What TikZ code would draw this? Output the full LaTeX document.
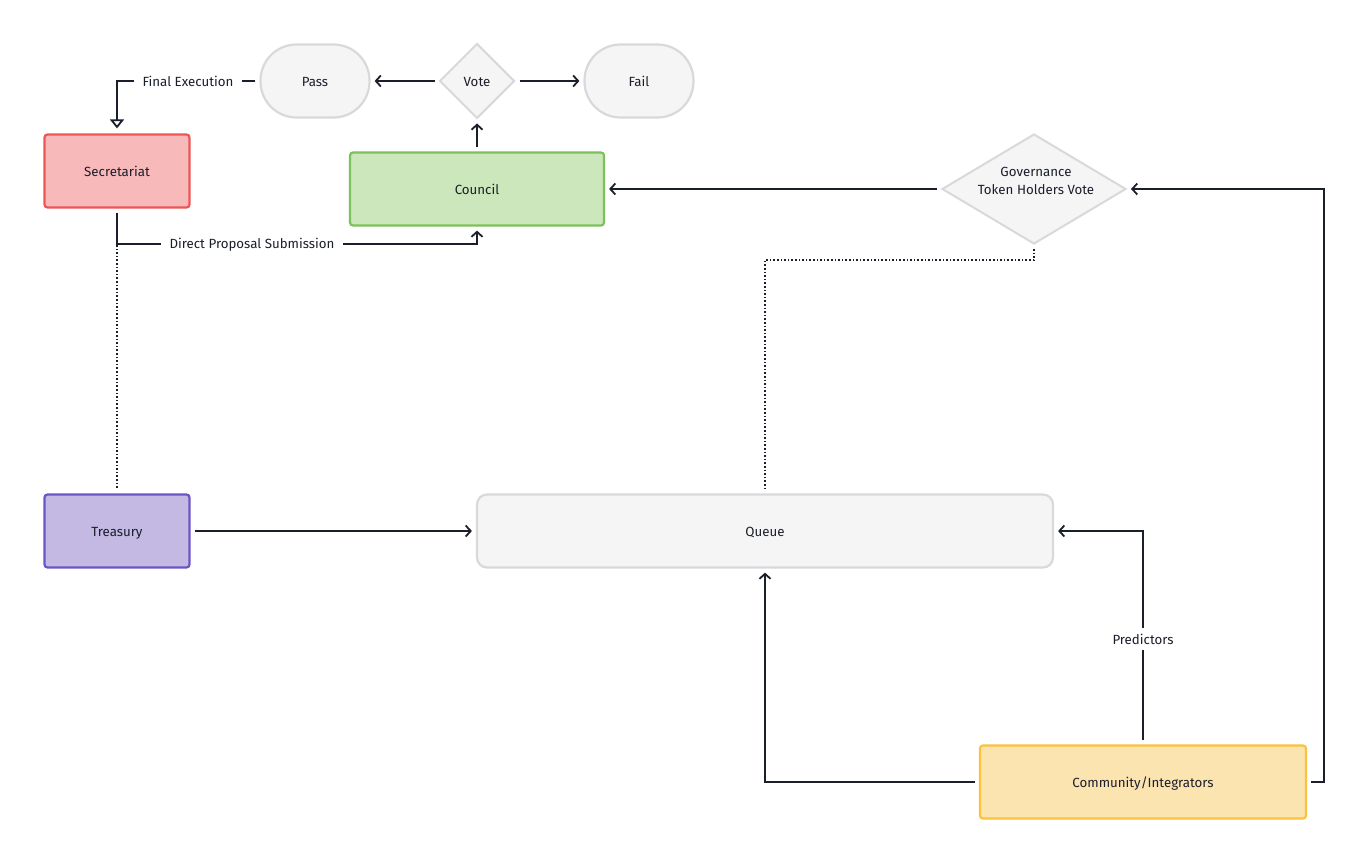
\documentclass[tikz,border=0pt]{standalone}
\usepackage{fontspec}
\setmainfont{Fira Sans}
\usetikzlibrary{arrows.meta,shapes.geometric}
\definecolor{ink}{HTML}{1B1E2B}
\definecolor{greyf}{HTML}{F5F5F5}
\definecolor{greyb}{HTML}{D9D9DC}
\definecolor{secf}{HTML}{F8B9BA}
\definecolor{secb}{HTML}{EE5656}
\definecolor{couf}{HTML}{CDE7BD}
\definecolor{coub}{HTML}{7CC25A}
\definecolor{trsf}{HTML}{C3B9E3}
\definecolor{trsb}{HTML}{6A55C6}
\definecolor{comf}{HTML}{FCE4B1}
\definecolor{comb}{HTML}{FBC23E}
\newcommand{\fsz}{\fontsize{13.3}{18}\selectfont}
\tikzset{
  base/.style={font=\fsz, text=ink, inner sep=0pt, line width=2.2pt, align=center, text height=11.2pt, text depth=0pt},
  box/.style={base, rectangle, rounded corners=3pt, minimum width=145pt, minimum height=73pt},
  term/.style={base, draw=greyb, fill=greyf, rounded corners=36pt, minimum width=109pt, minimum height=73pt},
  dia/.style={base, diamond, draw=greyb, fill=greyf, line width=2pt},
  conn/.style={draw=ink, line width=1.8pt, -{Straight Barb[length=5pt,width=11pt]}, shorten >=4pt, shorten <=4pt},
  dotconn/.style={draw=ink, line width=1.6pt, dotted, shorten >=4pt, shorten <=4pt},
  lbl/.style={fill=white, font=\fsz, text=ink, inner xsep=9pt, inner ysep=2pt, text height=11.2pt, text depth=0pt}
}
\begin{document}
\begin{tikzpicture}[x=1pt,y=-1pt]
\useasboundingbox[fill=white] (0,0) rectangle (1368,864);
% nodes
\node[term] (pass) at (315,81) {Pass};
\node[dia, minimum width=75pt, minimum height=75pt] (vote) at (477,81) {Vote};
\node[term] (fail) at (639,81) {Fail};
\node[box, draw=secb, fill=secf] (secr) at (117,171) {Secretariat};
\node[box, draw=coub, fill=couf, minimum width=254pt] (council) at (477,189) {Council};
\node[dia, aspect=1.67, minimum width=184pt, minimum height=110pt] (gov) at (1034,189) {};
\node[font=\fsz, text=ink, align=center, inner sep=0pt] (govtxt) at (1036,181) {Governance\\Token Holders Vote};
\node[box, draw=trsb, fill=trsf] (treas) at (117,531) {Treasury};
\node[base, draw=greyb, fill=greyf, rounded corners=10pt, minimum width=576pt, minimum height=73pt] (queue) at (765,531) {Queue};
\node[box, draw=comb, fill=comf, minimum width=326pt] (comm) at (1143,782) {Community/Integrators};
% dotted
\draw[dotconn] (secr.south) -- (treas.north);
\draw[dotconn] (gov.south) -- ++(0,15) -| (queue.north);
% connectors
\draw[conn, -{Triangle[open,fill=white,length=9pt,width=14pt]}, shorten >=5pt] (pass.west) -| (secr.north);
\node[lbl] (lfinal) at (188,81) {Final Execution};
\draw[conn] (vote.west) -- (pass.east);
\draw[conn] (vote.east) -- (fail.west);
\draw[conn] (council.north) -- (vote.south);
\draw[conn] (secr.south) -- ++(0,35) -| (council.south);
\node[lbl] (ldirect) at (252,243) {Direct Proposal Submission};
\draw[conn] (gov.west) -- (council.east);
\draw[conn] (treas.east) -- (queue.west);
\draw[conn] (comm.west) -| (queue.south);
\draw[conn] (comm.north) |- (queue.east);
\node[lbl, inner ysep=5pt] (lpred) at (1143,639) {Predictors};
\draw[conn] (comm.east) -- ++(17,0) |- (gov.east);
\end{tikzpicture}
\end{document}
